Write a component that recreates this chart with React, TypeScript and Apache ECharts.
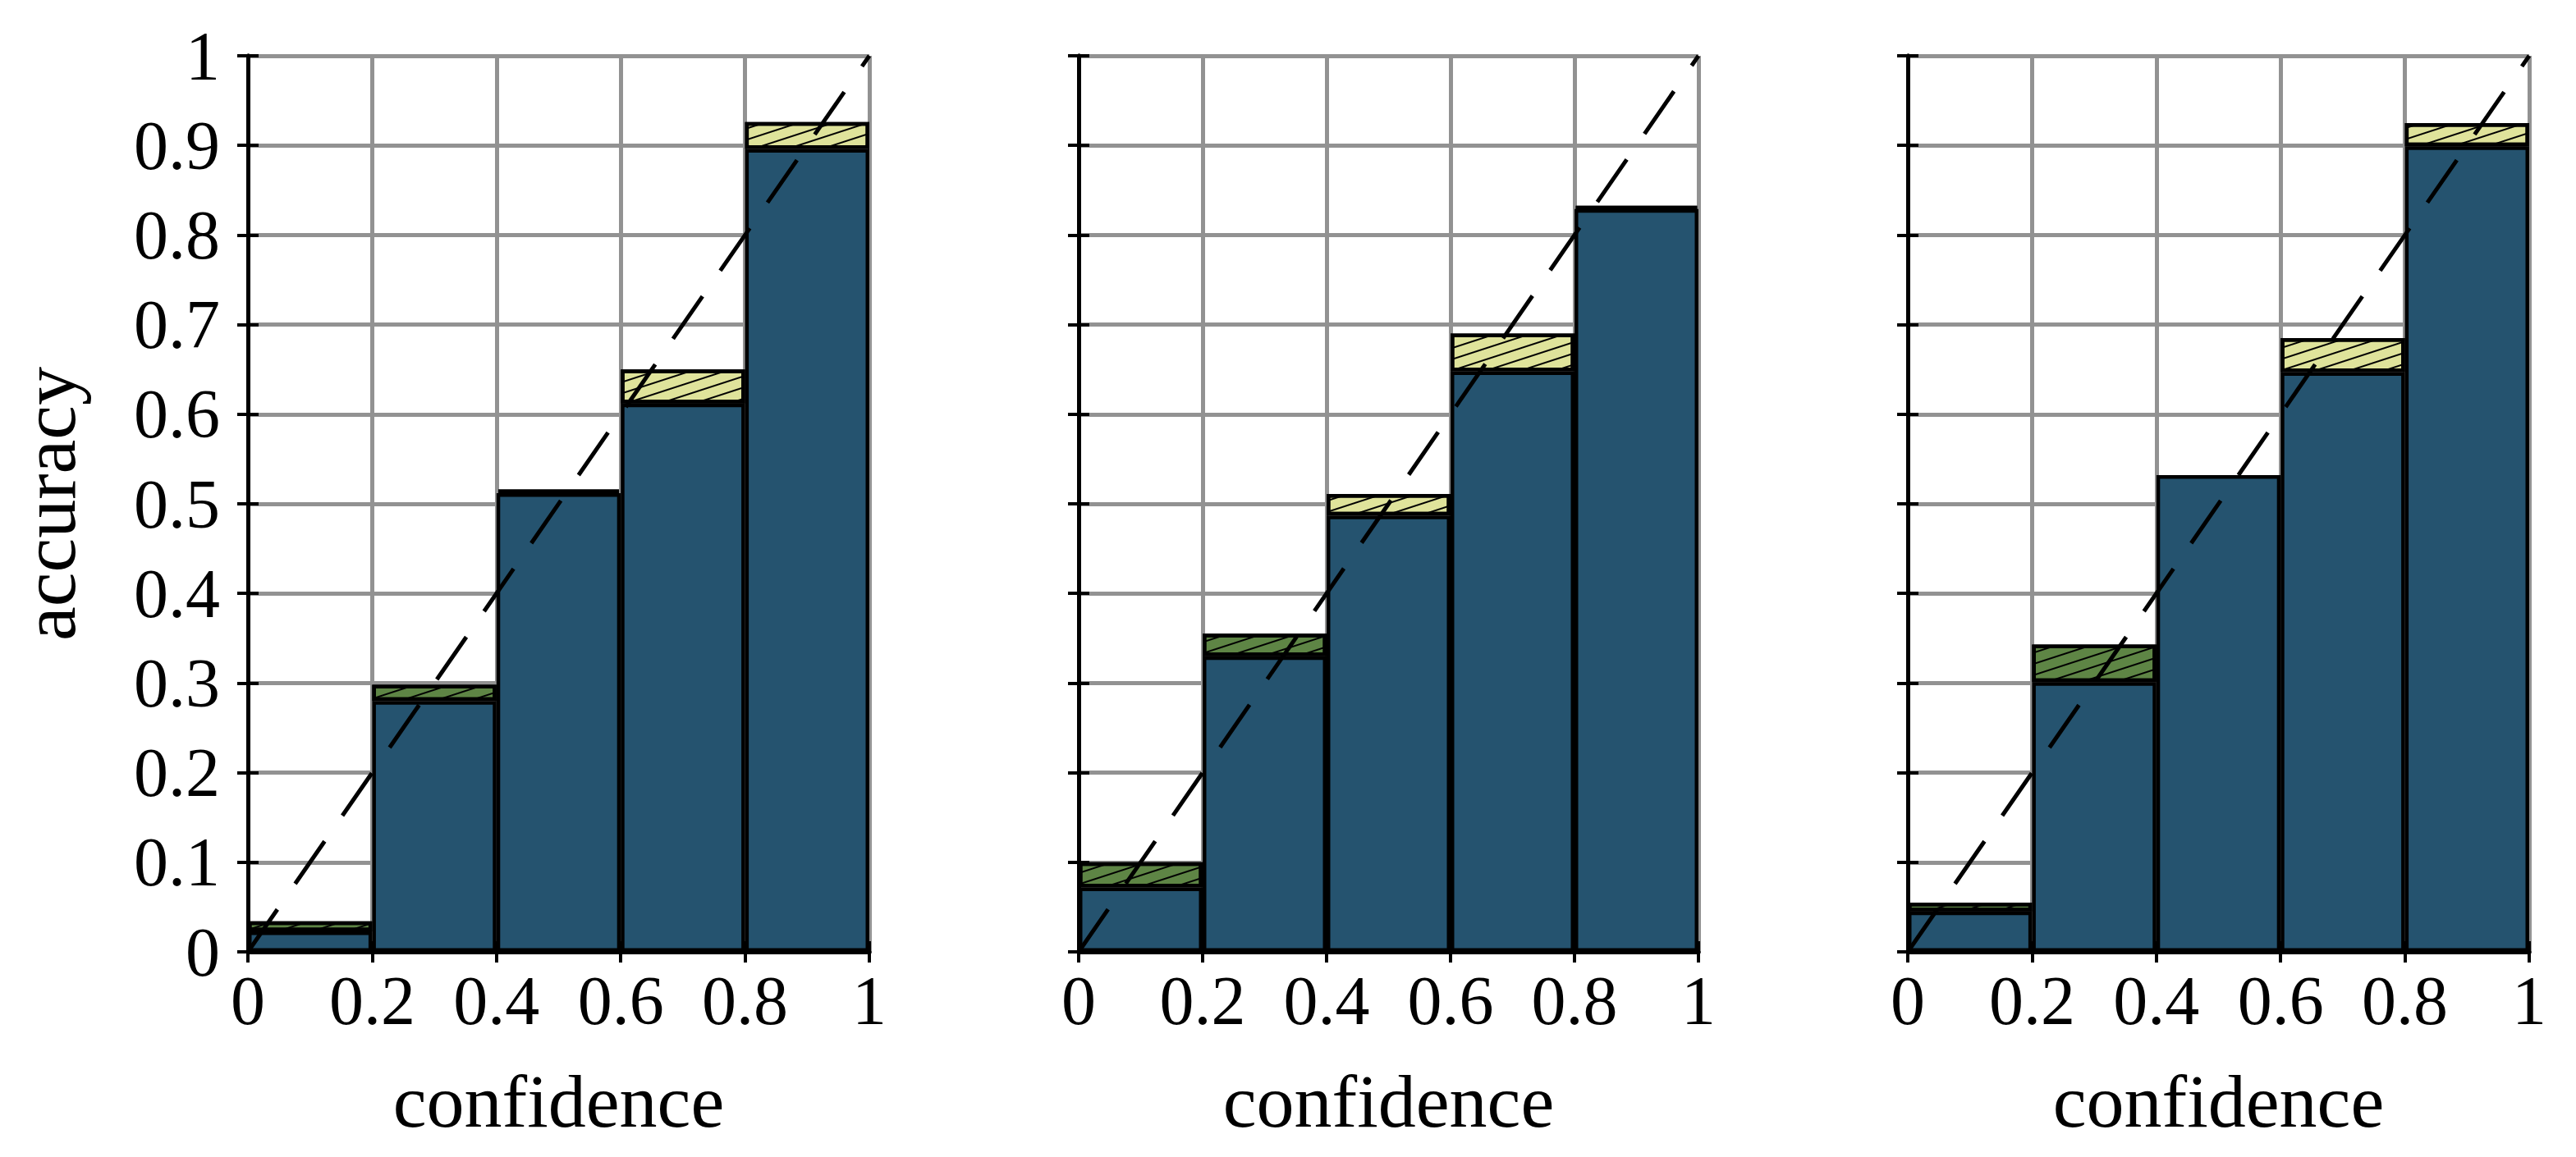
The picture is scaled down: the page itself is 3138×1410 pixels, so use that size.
import React, { useEffect, useRef } from "react";
import * as echarts from "echarts";

const bins = ["0-0.2", "0.2-0.4", "0.4-0.6", "0.6-0.8", "0.8-1"];
const xTickLabels = ["0", "0.2", "0.4", "0.6", "0.8", "1"];
const yTickLabels = ["0", "0.1", "0.2", "0.3", "0.4", "0.5", "0.6", "0.7", "0.8", "0.9", "1"];

const accuracy1 = [0.023, 0.28, 0.512, 0.612, 0.896];
const gapTop1 = [0.034, 0.298, 0.516, 0.65, 0.926];
const accuracy2 = [0.072, 0.33, 0.487, 0.648, 0.829];
const gapTop2 = [0.1, 0.355, 0.511, 0.69, 0.832];
const accuracy3 = [0.045, 0.301, 0.532, 0.647, 0.899];
const gapTop3 = [0.055, 0.343, null, 0.685, 0.925];
const gapKind = ["under", "under", "over", "over", "over"];

const diagonal = [
  [0, 0],
  [1, 1],
];

const BLUE = "#25536f";
const GREEN = "#5e8545";
const YELLOW = "#dfe39b";
const FONT = "Liberation Serif";

const panels = [
  { acc: accuracy1, top: gapTop1, left: 302, width: 757 },
  { acc: accuracy2, top: gapTop2, left: 1314, width: 755 },
  { acc: accuracy3, top: gapTop3, left: 2324, width: 757 },
];

function fmt(v: number, labels: string[], step: number) {
  const i = Math.round(v / step);
  return labels[i] ?? "";
}

function buildOption() {
  const grid: any[] = [];
  const xAxis: any[] = [];
  const yAxis: any[] = [];
  const series: any[] = [];
  const frameLine = { show: true, lineStyle: { color: "#000", width: 5 } };
  const tick = { show: true, inside: true, length: 13, lineStyle: { color: "#000", width: 4 } };
  const split = { show: true, lineStyle: { color: "#929292", width: 5 } };

  panels.forEach((p, i) => {
    grid.push({ left: p.left, width: p.width, top: 68, height: 1092, containLabel: false });
    xAxis.push({
      type: "value",
      gridIndex: i,
      min: 0,
      max: 1,
      interval: 0.2,
      position: "bottom",
      axisLine: frameLine,
      axisTick: tick,
      splitLine: split,
      axisLabel: {
        show: true,
        margin: 17,
        color: "#000",
        fontFamily: FONT,
        fontSize: 84,
        formatter: (v: number) => fmt(v, xTickLabels, 0.2),
      },
      name: "confidence",
      nameLocation: "middle",
      nameGap: 136,
      nameTextStyle: { color: "#000", fontFamily: FONT, fontSize: 92 },
    });
    xAxis.push({
      type: "value",
      gridIndex: i,
      min: 0,
      max: 1,
      interval: 0.2,
      position: "top",
      axisLine: frameLine,
      axisTick: tick,
      splitLine: { show: false },
      axisLabel: { show: false },
    });
    xAxis.push({
      type: "category",
      gridIndex: i,
      data: bins,
      boundaryGap: true,
      show: false,
    });
    yAxis.push({
      type: "value",
      gridIndex: i,
      min: 0,
      max: 1,
      interval: 0.1,
      position: "left",
      axisLine: frameLine,
      axisTick: tick,
      splitLine: split,
      axisLabel: {
        show: i === 0,
        margin: 34,
        color: "#000",
        fontFamily: FONT,
        fontSize: 84,
        formatter: (v: number) => fmt(v, yTickLabels, 0.1),
      },
      name: i === 0 ? "accuracy" : "",
      nameLocation: "middle",
      nameGap: 196,
      nameRotate: 90,
      nameTextStyle: { color: "#000", fontFamily: FONT, fontSize: 94 },
    });
    yAxis.push({
      type: "value",
      gridIndex: i,
      min: 0,
      max: 1,
      interval: 0.1,
      position: "right",
      axisLine: frameLine,
      axisTick: tick,
      splitLine: { show: false },
      axisLabel: { show: false },
    });

    const catIdx = i * 3 + 2;
    const yIdx = i * 2;
    series.push({
      type: "bar",
      xAxisIndex: catIdx,
      yAxisIndex: yIdx,
      stack: "s" + i,
      barWidth: "100%",
      data: p.acc,
      itemStyle: { color: BLUE, borderColor: "#000", borderWidth: 4.5 },
    });
    series.push({
      type: "bar",
      xAxisIndex: catIdx,
      yAxisIndex: yIdx,
      stack: "s" + i,
      barWidth: "100%",
      data: p.top.map((t, k) => {
        if (t === null) return null;
        const col = gapKind[k] === "under" ? GREEN : YELLOW;
        return {
          value: +(t - p.acc[k]).toFixed(4),
          itemStyle: {
            color: col,
            borderColor: "#000",
            borderWidth: 4.5,
            decal: {
              symbol: "rect",
              symbolSize: 1,
              color: "#000",
              dashArrayX: [1, 0],
              dashArrayY: [2, 11],
              rotation: -Math.PI / 10,
            },
          },
        };
      }),
    });
    series.push({
      type: "line",
      xAxisIndex: i * 3,
      yAxisIndex: yIdx,
      data: diagonal,
      symbol: "none",
      lineStyle: { color: "#000", width: 5, type: [63, 38] },
      z: 5,
    });
  });

  return {
    animation: false,
    backgroundColor: "#fff",
    grid,
    xAxis,
    yAxis,
    series,
  };
}

export default function App() {
  const ref = useRef<HTMLDivElement>(null);
  useEffect(() => {
    document.body.style.margin = "0";
    if (!ref.current) return;
    const chart = echarts.init(ref.current, undefined, { renderer: "svg" });
    chart.setOption(buildOption() as any);
    return () => chart.dispose();
  }, []);
  return (
    <div
      ref={ref}
      style={{ position: "absolute", left: 0, top: 0, width: 3138, height: 1410 }}
    />
  );
}
